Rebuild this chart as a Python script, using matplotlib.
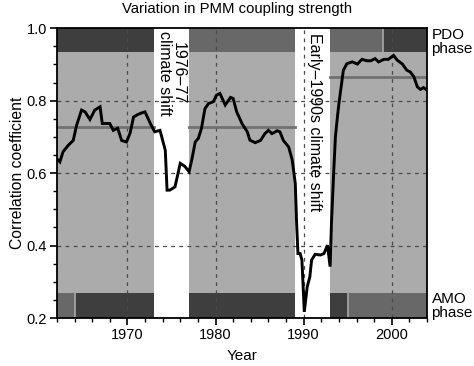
import matplotlib
matplotlib.use("Agg")
import matplotlib.pyplot as plt
from matplotlib.ticker import MultipleLocator, FormatStrFormatter

plt.rcParams['font.family'] = ['Liberation Sans', 'DejaVu Sans']

# ---- data ----
years = [1962.15, 1962.34, 1962.7, 1963.3, 1963.85, 1964.24, 1964.8, 1965.2, 1965.75, 1966.3,
         1966.9, 1967.15, 1968.0, 1968.4, 1968.9, 1969.35, 1969.9, 1970.3, 1970.7, 1971.2,
         1971.6, 1972.0, 1972.6, 1973.1, 1973.7, 1974.3, 1974.5, 1974.8, 1975.4, 1976.0,
         1976.5, 1977.0, 1977.3, 1977.7, 1978.05, 1978.4, 1978.8, 1979.2, 1979.75, 1980.1,
         1980.5, 1981.1, 1981.7, 1982.0, 1982.4, 1983.0, 1983.6, 1983.9, 1984.5, 1985.1,
         1985.6, 1986.0, 1986.4, 1987.0, 1987.3, 1987.7, 1988.3, 1988.7, 1989.05, 1989.2,
         1989.35, 1989.6, 1989.8, 1990.07, 1990.4, 1990.7, 1990.9, 1991.3, 1991.9, 1992.3,
         1992.7, 1993.0, 1993.15, 1993.4, 1993.6, 1993.85, 1994.0, 1994.5, 1994.9, 1995.5,
         1996.1, 1996.6, 1997.2, 1997.6, 1998.1, 1998.5, 1999.1, 1999.6, 2000.2, 2000.6,
         2001.2, 2001.7, 2002.1, 2002.5, 2002.9, 2003.25, 2003.6, 2004.0]
corr = [0.636, 0.631, 0.659, 0.677, 0.690, 0.732, 0.774, 0.769, 0.748, 0.774,
        0.783, 0.737, 0.737, 0.718, 0.724, 0.690, 0.686, 0.710, 0.755, 0.762,
        0.766, 0.769, 0.737, 0.714, 0.718, 0.663, 0.553, 0.553, 0.562, 0.627,
        0.619, 0.604, 0.636, 0.686, 0.696, 0.723, 0.778, 0.792, 0.797, 0.815,
        0.820, 0.788, 0.809, 0.806, 0.769, 0.737, 0.714, 0.691, 0.684, 0.690,
        0.709, 0.718, 0.709, 0.717, 0.714, 0.690, 0.672, 0.636, 0.571, 0.461,
        0.378, 0.378, 0.360, 0.217, 0.286, 0.314, 0.360, 0.376, 0.374, 0.378,
        0.401, 0.342, 0.460, 0.600, 0.700, 0.760, 0.792, 0.884, 0.902, 0.907,
        0.901, 0.914, 0.910, 0.910, 0.916, 0.907, 0.914, 0.914, 0.925, 0.912,
        0.901, 0.884, 0.879, 0.866, 0.838, 0.831, 0.836, 0.829]

# analysis periods (gray background) and their mean correlation
period_start = [1962, 1977, 1993]
period_end = [1973, 1989, 2004]
period_mean = [0.728, 0.727, 0.866]

# PDO phase segments (phase: 1 = dark, 0 = medium)
pdo_start = [1962, 1977, 1993, 1999]
pdo_end = [1973, 1989, 1999, 2004]
pdo_phase = [1, 0, 0, 1]

# AMO phase segments
amo_start = [1962, 1964, 1977, 1993, 1995]
amo_end = [1964, 1973, 1989, 1995, 2004]
amo_phase = [0, 1, 1, 1, 0]

shift_labels = ["1976\u201377\nclimate shift", "Early\u20131990s climate shift"]
shift_centers = [1974.95, 1991.2]

# ---- styles ----
LIGHT = "#ababab"
DARK = "#3e3e3e"
MED = "#686868"
MEANC = "#717171"
SEP = "#a8a8a8"

fig = plt.figure(figsize=(4.74, 3.66), dpi=100)
ax = fig.add_axes([0.120, 0.131, 0.781, 0.792])

ax.set_xlim(1962, 2004)
ax.set_ylim(0.2, 1.0)

band_top = (0.934, 1.0)
band_bot = (0.2, 0.27)

for s, e in zip(period_start, period_end):
    ax.axvspan(s, e, color=LIGHT, lw=0, zorder=0)

for s, e, p in zip(pdo_start, pdo_end, pdo_phase):
    ax.fill_between([s, e], band_top[0], band_top[1], color=DARK if p else MED, lw=0, zorder=0.5)
for s, e, p in zip(amo_start, amo_end, amo_phase):
    ax.fill_between([s, e], band_bot[0], band_bot[1], color=DARK if p else MED, lw=0, zorder=0.5)

# separators between adjacent phase segments
for i in range(1, len(pdo_start)):
    if pdo_start[i] == pdo_end[i - 1]:
        ax.plot([pdo_start[i]] * 2, band_top, color=SEP, lw=1.2, zorder=0.6)
for i in range(1, len(amo_start)):
    if amo_start[i] == amo_end[i - 1]:
        ax.plot([amo_start[i]] * 2, band_bot, color=SEP, lw=1.2, zorder=0.6)

# grid
for yv in [0.4, 0.6, 0.8]:
    ax.axhline(yv, color="#4a4a4a", lw=0.9, ls=(0, (3, 3.5)), zorder=1)
for xv in [1970, 1980, 1990, 2000]:
    ax.axvline(xv, color="#4a4a4a", lw=0.9, ls=(0, (3, 3.5)), zorder=1)

# period means
for s, e, m in zip(period_start, period_end, period_mean):
    ax.plot([s, e], [m, m], color=MEANC, lw=2.0, zorder=2)

# main curve
ax.plot(years, corr, color="black", lw=2.1, zorder=3, solid_joinstyle="miter")

# climate shift labels
ax.text(shift_centers[0], 0.993, shift_labels[0], rotation=-90, ha="center", va="top",
        fontsize=11.5, linespacing=0.9, zorder=4)
ax.text(shift_centers[1], 0.988, shift_labels[1], rotation=-90, ha="center", va="top",
        fontsize=11.5, zorder=4)

# axes
ax.xaxis.set_major_locator(MultipleLocator(10))
ax.xaxis.set_minor_locator(MultipleLocator(2))
ax.yaxis.set_major_locator(MultipleLocator(0.2))
ax.yaxis.set_minor_locator(MultipleLocator(0.05))
ax.yaxis.set_major_formatter(FormatStrFormatter("%.1f"))
ax.tick_params(which="major", direction="out", length=5, width=1.2, labelsize=10.5, pad=2)
ax.tick_params(which="minor", direction="out", length=3, width=1.0)
ax.tick_params(top=False, right=False)
for sp in ax.spines.values():
    sp.set_linewidth(1.3)

ax.set_xlabel("Year", fontsize=11, labelpad=5)
ax.set_ylabel("Correlation coefficient", fontsize=11.3, labelpad=1)
fig.suptitle("Variation in PMM coupling strength", fontsize=10.7, x=0.5, y=0.995, va="top")

ax.text(1.012, 1.0, "PDO\nphase", transform=ax.transAxes, ha="left", va="top",
        fontsize=11, linespacing=1.0)
ax.text(1.012, -0.005, "AMO\nphase", transform=ax.transAxes, ha="left", va="bottom",
        fontsize=11, linespacing=1.0)

fig.savefig("out.png", dpi=100)
